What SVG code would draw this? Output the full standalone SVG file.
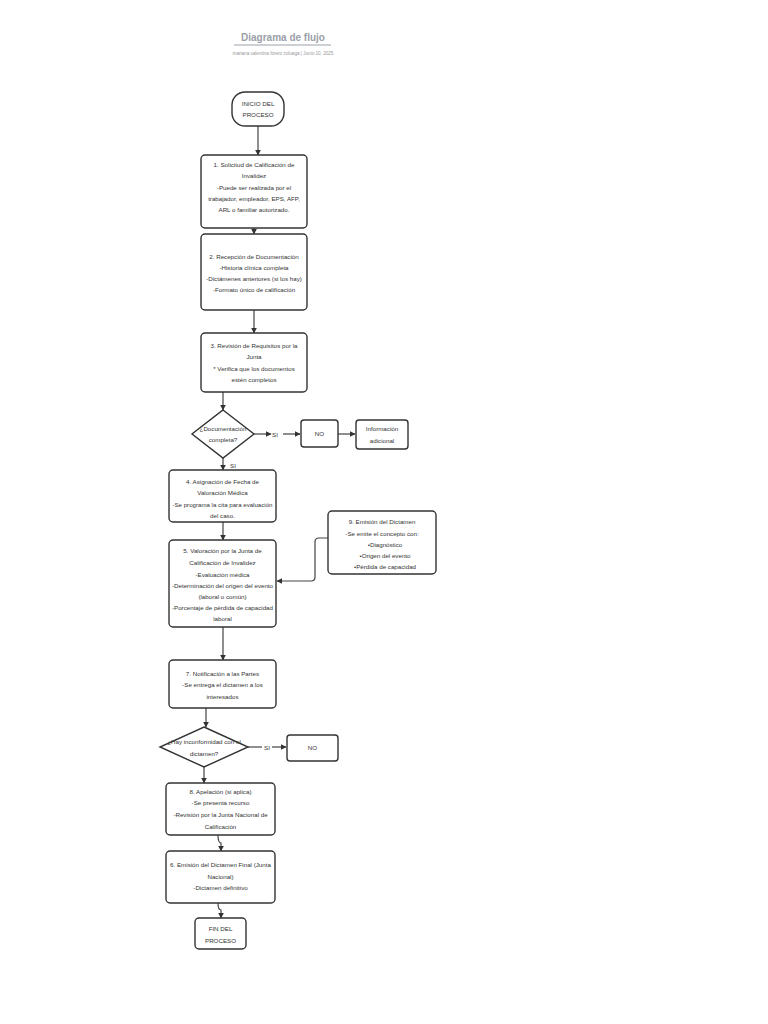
<svg xmlns="http://www.w3.org/2000/svg" width="768" height="1024" viewBox="0 0 768 1024">
<defs>
<marker id="ah" viewBox="0 0 10 10" refX="9" refY="5" markerWidth="5" markerHeight="5" orient="auto"><path d="M0,0 L10,5 L0,10 z" fill="#333"/></marker>
<style>
.n{fill:#fff;stroke:#333;stroke-width:1.4}
.t{font-family:"Liberation Sans",Arial,sans-serif;font-size:6.2px;fill:#333;text-anchor:middle}
.c{fill:none;stroke:#444;stroke-width:1.2;marker-end:url(#ah)}
.l{fill:none;stroke:#444;stroke-width:1.2}
</style>
</defs>
<rect width="768" height="1024" fill="#fff"/>
<g id="title">
<text x="283" y="41" style="font-family:'Liberation Sans',Arial,sans-serif;font-size:10px;font-weight:bold;fill:#9aa0a8;text-anchor:middle">Diagrama de flujo</text>
<line x1="234" y1="45" x2="331" y2="45" stroke="#9aa0a8" stroke-width="1"/>
<text x="283" y="55" style="font-family:'Liberation Sans',Arial,sans-serif;font-size:4.6px;fill:#999;text-anchor:middle">mariana valentina forero zuluaga  |  Junio 10, 2025</text>
</g>
<g id="connectors">
<line class="c" x1="258" y1="126" x2="258" y2="155"/>
<line class="c" x1="254" y1="228" x2="254" y2="234"/>
<line class="c" x1="254" y1="310" x2="254" y2="333"/>
<line class="c" x1="223" y1="392" x2="223" y2="410"/>
<line class="c" x1="254" y1="434" x2="271" y2="434"/>
<line class="c" x1="283" y1="434" x2="300" y2="434"/>
<line class="c" x1="338" y1="434" x2="355" y2="434"/>
<line class="c" x1="223" y1="458" x2="223" y2="470"/>
<line class="c" x1="223" y1="522" x2="223" y2="540"/>
<path class="c" d="M328,538 L319,538 Q315,538 315,542 L315,577 Q315,581 311,581 L277,581"/>
<line class="c" x1="223" y1="627" x2="223" y2="660"/>
<line class="c" x1="206" y1="708" x2="206" y2="727"/>
<line class="l" x1="248" y1="747" x2="262" y2="747"/>
<line class="c" x1="272" y1="747" x2="286" y2="747"/>
<line class="c" x1="204" y1="767" x2="204" y2="783"/>
<path class="c" d="M218,835 Q218,843 221,843 L221,851"/>
<path class="c" d="M218,903 Q218,910 221,910 L221,918"/>
<text class="t" x="275" y="436.5">SI</text>
<text class="t" x="233" y="468">SI</text>
<text class="t" x="267" y="749.5">SI</text>
</g>
<g id="inicio">
<rect class="n" x="232" y="92" width="52" height="34" rx="13"/>
<text class="t" x="258" y="106">INICIO DEL</text>
<text class="t" x="258" y="117">PROCESO</text>
</g>
<g id="paso1">
<rect class="n" x="201" y="155" width="106" height="73" rx="4"/>
<text class="t" x="254" y="167">1. Solicitud de Calificación de</text>
<text class="t" x="254" y="178">Invalidez</text>
<text class="t" x="254" y="190">-Puede ser realizada por el</text>
<text class="t" x="254" y="201">trabajador, empleador, EPS, AFP,</text>
<text class="t" x="254" y="212">ARL o familiar autorizado.</text>
</g>
<g id="paso2">
<rect class="n" x="201" y="234" width="106" height="76" rx="4"/>
<text class="t" x="254" y="259">2. Recepción de Documentación</text>
<text class="t" x="254" y="270">-Historia clínica completa</text>
<text class="t" x="254" y="281">-Dictámenes anteriores (si los hay)</text>
<text class="t" x="254" y="292">-Formato único de calificación</text>
</g>
<g id="paso3">
<rect class="n" x="201" y="333" width="106" height="59" rx="4"/>
<text class="t" x="254" y="348">3. Revisión de Requisitos por la</text>
<text class="t" x="254" y="359">Junta</text>
<text class="t" x="254" y="371">* Verifica que los documentos</text>
<text class="t" x="254" y="382">estén completos</text>
</g>
<g id="decision1">
<polygon class="n" points="223,410 254,434 223,458 192,434"/>
<text class="t" x="223" y="431">¿Documentación</text>
<text class="t" x="223" y="442">completa?</text>
</g>
<g id="no1">
<rect class="n" x="301" y="420" width="37" height="27" rx="3"/>
<text class="t" x="319.5" y="436">NO</text>
</g>
<g id="info">
<rect class="n" x="356" y="420" width="52" height="29" rx="3"/>
<text class="t" x="382" y="431">Información</text>
<text class="t" x="382" y="443">adicional</text>
</g>
<g id="paso4">
<rect class="n" x="169" y="470" width="107" height="52" rx="4"/>
<text class="t" x="222.5" y="484">4. Asignación de Fecha de</text>
<text class="t" x="222.5" y="495">Valoración Médica</text>
<text class="t" x="222.5" y="507" textLength="100" lengthAdjust="spacingAndGlyphs">-Se programa la cita para evaluación</text>
<text class="t" x="222.5" y="518">del caso.</text>
</g>
<g id="paso5">
<rect class="n" x="169" y="540" width="107" height="87" rx="4"/>
<text class="t" x="222.5" y="553">5. Valoración por la Junta de</text>
<text class="t" x="222.5" y="565">Calificación de Invalidez</text>
<text class="t" x="222.5" y="577">-Evaluación médica</text>
<text class="t" x="222.5" y="588" textLength="101" lengthAdjust="spacingAndGlyphs">-Determinación del origen del evento</text>
<text class="t" x="222.5" y="599">(laboral o común)</text>
<text class="t" x="222.5" y="610" textLength="101" lengthAdjust="spacingAndGlyphs">-Porcentaje de pérdida de capacidad</text>
<text class="t" x="222.5" y="621">laboral</text>
</g>
<g id="paso9">
<rect class="n" x="328" y="511" width="108" height="63" rx="4"/>
<text class="t" x="382" y="524">9. Emisión del Dictamen</text>
<text class="t" x="382" y="536">-Se emite el concepto con:</text>
<text class="t" x="385" y="547">•Diagnóstico</text>
<text class="t" x="385" y="558">•Origen del evento</text>
<text class="t" x="385" y="569">•Pérdida de capacidad</text>
</g>
<g id="paso7">
<rect class="n" x="169" y="660" width="107" height="48" rx="4"/>
<text class="t" x="222.5" y="676">7. Notificación a las Partes</text>
<text class="t" x="222.5" y="687">-Se entrega el dictamen a los</text>
<text class="t" x="222.5" y="699">interesados</text>
</g>
<g id="decision2">
<polygon class="n" points="204,727 248,747 204,767 160,747"/>
<text class="t" x="204" y="744">¿Hay inconformidad con el</text>
<text class="t" x="204" y="756">dictamen?</text>
</g>
<g id="no2">
<rect class="n" x="287" y="735" width="51" height="26" rx="3"/>
<text class="t" x="312.5" y="750">NO</text>
</g>
<g id="paso8">
<rect class="n" x="166" y="783" width="109" height="52" rx="4"/>
<text class="t" x="220.5" y="794">8. Apelación (si aplica)</text>
<text class="t" x="220.5" y="805">-Se presenta recurso</text>
<text class="t" x="220.5" y="817">-Revisión por la Junta Nacional de</text>
<text class="t" x="220.5" y="829">Calificación</text>
</g>
<g id="paso6">
<rect class="n" x="166" y="851" width="109" height="52" rx="4"/>
<text class="t" x="220.5" y="867">6. Emisión del Dictamen Final (Junta</text>
<text class="t" x="220.5" y="879">Nacional)</text>
<text class="t" x="220.5" y="890">-Dictamen definitivo</text>
</g>
<g id="fin">
<rect class="n" x="195" y="918" width="51" height="31" rx="4"/>
<text class="t" x="220.5" y="931">FIN DEL</text>
<text class="t" x="220.5" y="943">PROCESO</text>
</g>
</svg>
